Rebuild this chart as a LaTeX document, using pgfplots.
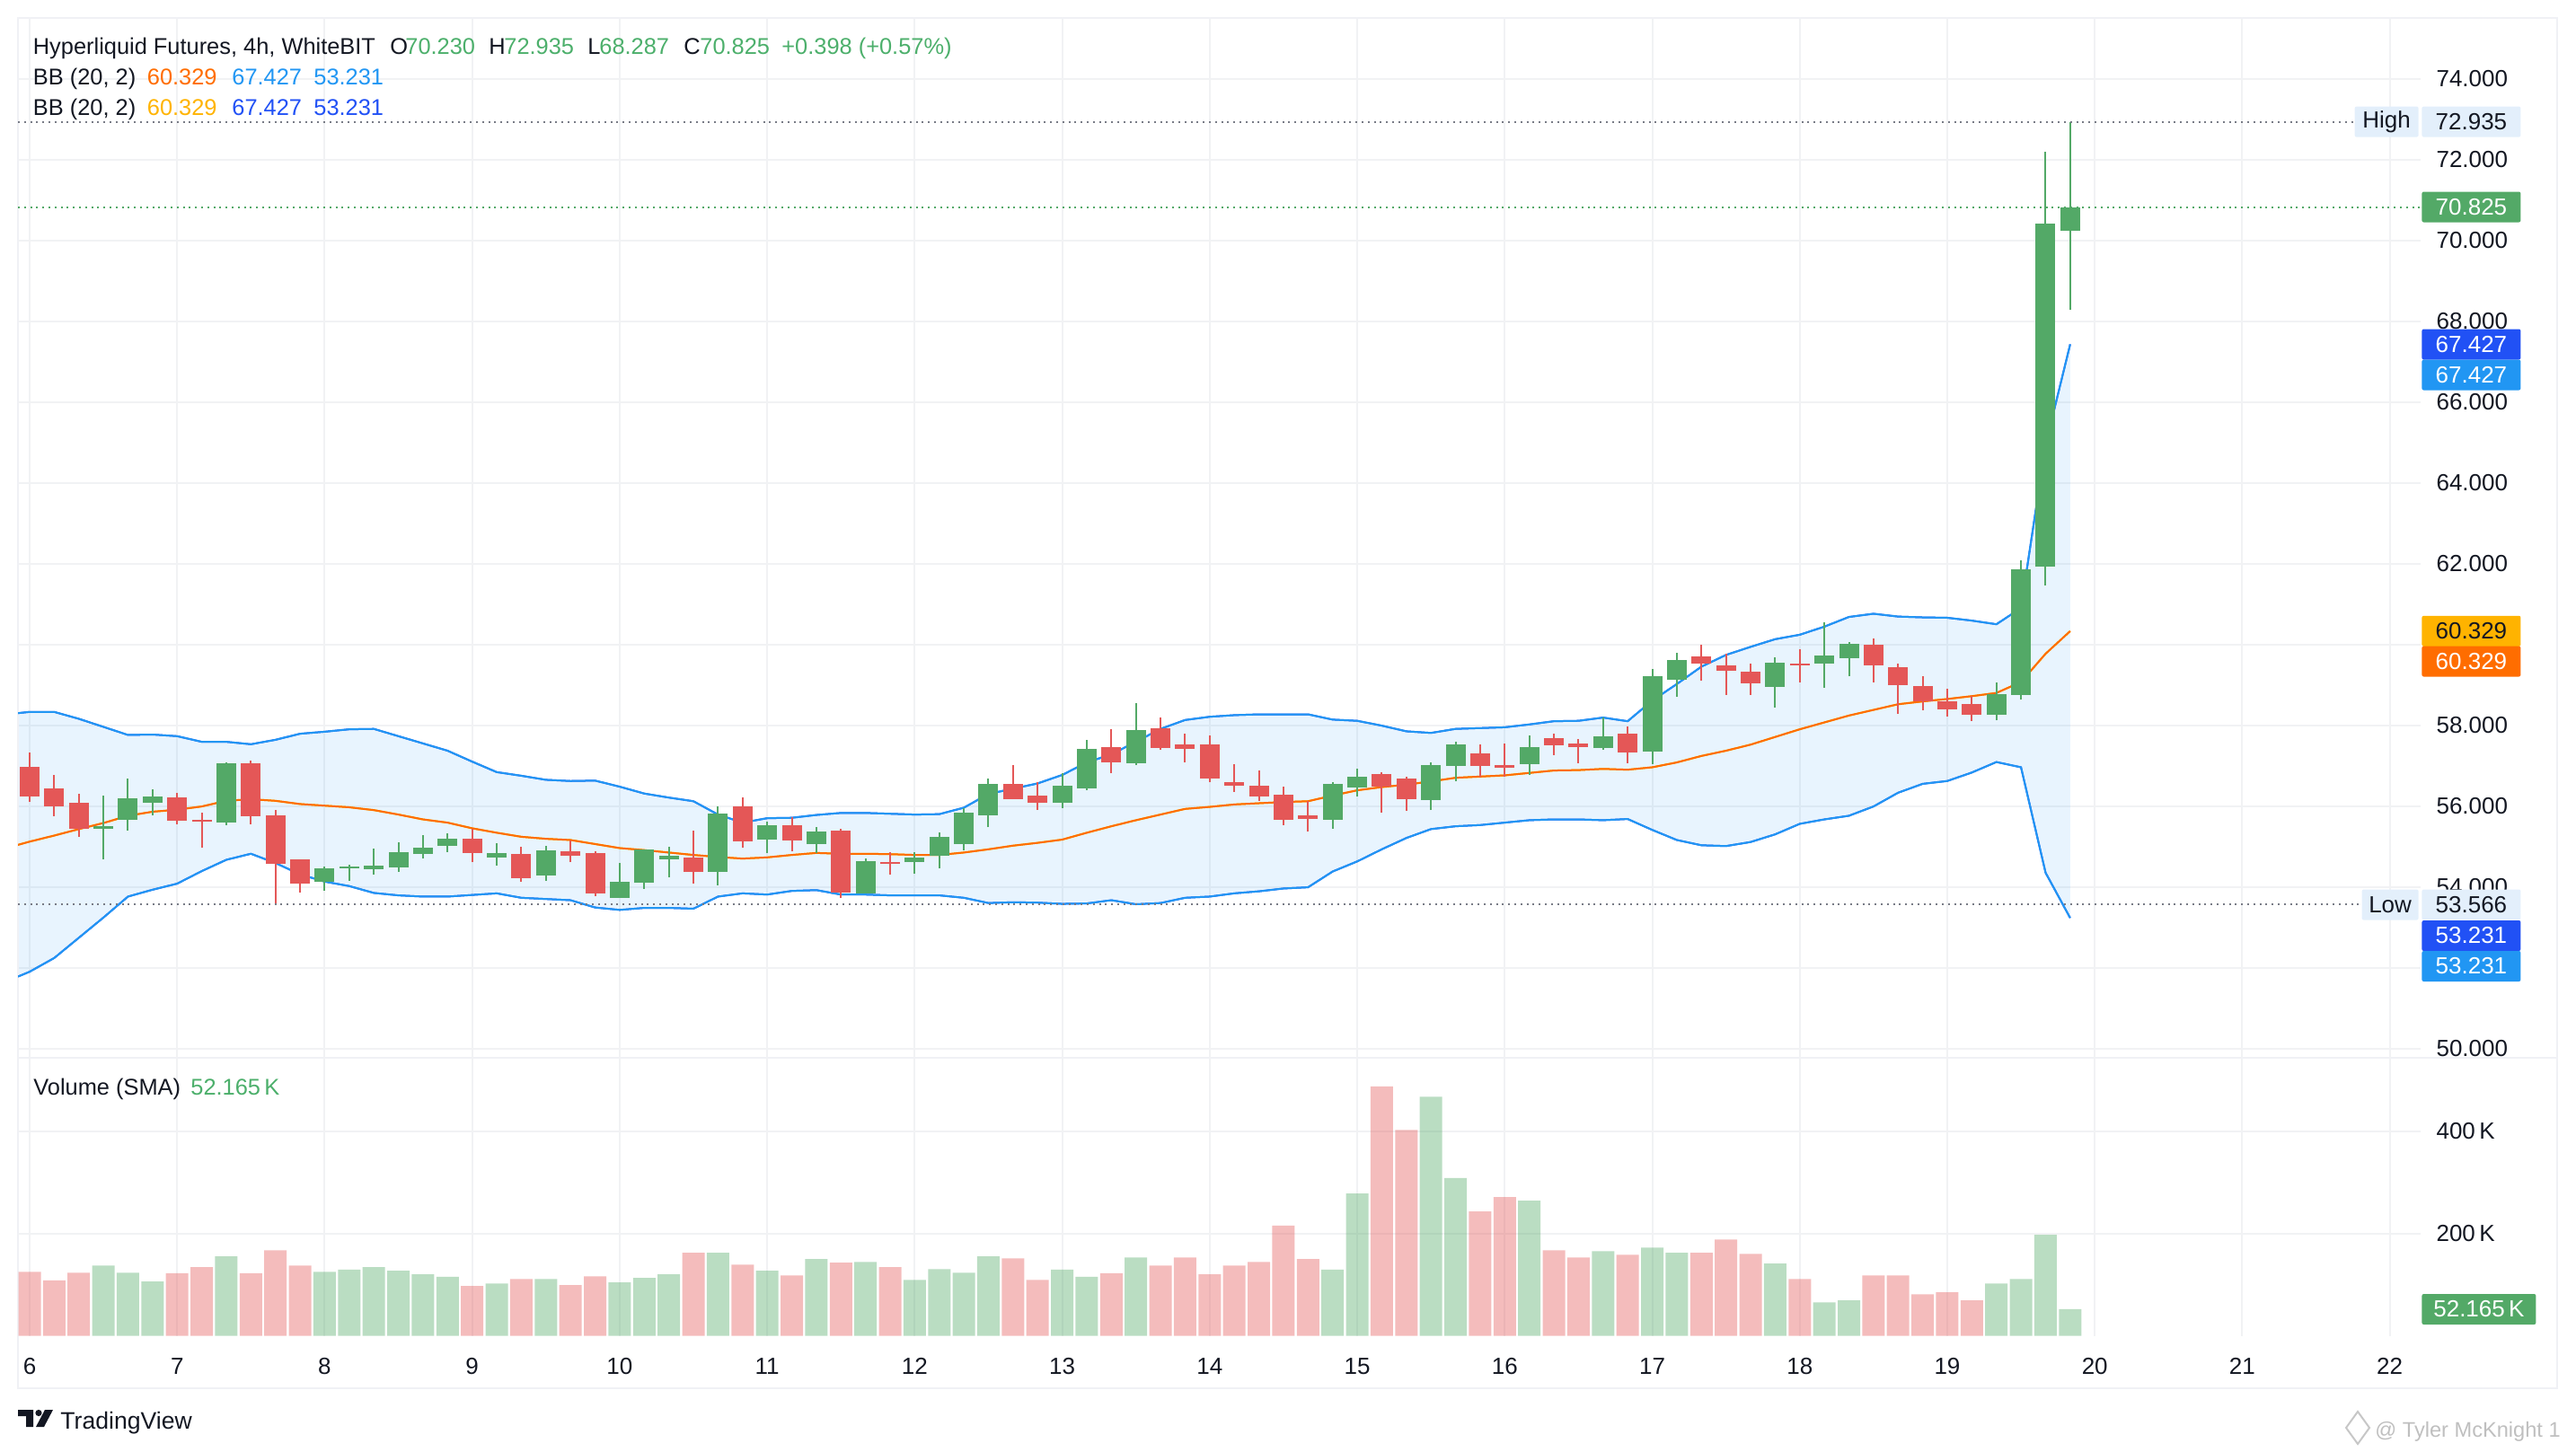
\documentclass[border=0pt]{standalone}
\usepackage{fontspec}
\setmainfont{Liberation Sans}
\usepackage{pgfplots}
\usepackage{pgfplotstable}
\pgfplotsset{compat=1.18}
\usepgfplotslibrary{fillbetween}

\definecolor{cgreen}{HTML}{53A967}
\definecolor{cred}{HTML}{E45757}
\definecolor{cgrid}{HTML}{F1F2F4}
\definecolor{cframe}{HTML}{F0F1F5}
\definecolor{cink}{HTML}{131722}
\definecolor{cblue}{HTML}{2196F3}
\definecolor{cdblue}{HTML}{2151F5}
\definecolor{corange}{HTML}{FF6D00}
\definecolor{camber}{HTML}{FFB300}
\definecolor{cpale}{HTML}{E3EFFB}
\definecolor{cdot}{HTML}{787B86}
\definecolor{ctextgreen}{HTML}{4CAF6B}

% 1 px of the reference is 0.5pt here
\newcommand{\lab}{\fontsize{13}{15}\selectfont}
\newcommand{\leg}{\fontsize{12.7}{15}\selectfont}

% Bollinger bands, x is the candle number (6 candles a day, day 6 = 0)
\pgfplotstableread{
i up mid low
-0.475 58.30 55.04 51.78
0 58.33 55.12 51.90
1 58.33 55.27 52.24
2 58.16 55.43 52.74
3 57.96 55.58 53.24
4 57.76 55.76 53.76
5 57.77 55.86 53.93
6 57.73 55.91 54.08
7 57.59 55.99 54.39
8 57.59 56.13 54.67
9 57.53 56.17 54.82
10 57.64 56.13 54.59
11 57.79 56.05 54.31
12 57.84 56.01 54.13
13 57.90 55.97 54.02
14 57.91 55.90 53.85
15 57.73 55.79 53.79
16 57.55 55.67 53.76
17 57.37 55.59 53.76
18 57.10 55.45 53.80
19 56.84 55.34 53.84
20 56.75 55.24 53.73
21 56.65 55.19 53.70
22 56.62 55.16 53.67
23 56.63 55.06 53.49
24 56.48 54.96 53.43
25 56.31 54.91 53.48
26 56.21 54.85 53.48
27 56.12 54.79 53.46
28 55.79 54.74 53.76
29 55.59 54.70 53.84
30 55.70 54.73 53.81
31 55.71 54.79 53.90
32 55.78 54.84 53.92
33 55.83 54.82 53.81
34 55.83 54.82 53.81
35 55.81 54.81 53.79
36 55.79 54.79 53.79
37 55.80 54.79 53.79
38 55.96 54.85 53.73
39 56.30 54.93 53.60
40 56.43 55.02 53.62
41 56.56 55.09 53.61
42 56.77 55.17 53.58
43 57.08 55.34 53.59
44 57.28 55.50 53.67
45 57.59 55.65 53.57
46 57.91 55.79 53.60
47 58.13 55.93 53.73
48 58.21 55.98 53.76
49 58.25 56.04 53.84
50 58.27 56.07 53.89
51 58.27 56.10 53.96
52 58.27 56.12 53.99
53 58.14 56.26 54.38
54 58.11 56.39 54.63
55 57.99 56.47 54.93
56 57.85 56.53 55.21
57 57.81 56.61 55.43
58 57.91 56.70 55.50
59 57.93 56.73 55.53
60 57.95 56.76 55.59
61 58.02 56.82 55.65
62 58.10 56.88 55.67
63 58.11 56.89 55.67
64 58.19 56.92 55.65
65 58.10 56.90 55.68
66 58.61 56.96 55.41
67 59.02 57.08 55.16
68 59.45 57.24 55.03
69 59.74 57.37 55.01
70 59.94 57.52 55.11
71 60.13 57.71 55.30
72 60.24 57.90 55.56
73 60.44 58.07 55.67
74 60.68 58.24 55.76
75 60.76 58.38 55.99
76 60.69 58.52 56.33
77 60.67 58.59 56.55
78 60.66 58.65 56.62
79 60.59 58.72 56.83
80 60.50 58.80 57.09
81 60.90 59.07 56.96
82 64.94 59.77 54.35
83 67.427 60.329 53.231
}\bbdata

\pgfplotstableread{
i hi top bot lo
3 56.26 55.50 55.44 54.68
4 56.68 56.19 55.66 55.39
5 56.41 56.24 56.08 55.77
8 57.08 57.06 55.59 55.53
12 54.50 54.46 54.13 53.90
13 54.55 54.50 54.46 54.15
14 54.95 54.53 54.44 54.30
15 55.10 54.86 54.48 54.37
16 55.28 54.97 54.81 54.70
17 55.33 55.19 55.01 54.86
19 55.08 54.84 54.73 54.53
21 55.01 54.90 54.28 54.15
24 54.59 54.13 53.73 53.73
25 54.93 54.93 54.10 53.95
26 54.99 54.77 54.68 54.24
28 55.99 55.81 54.37 54.04
30 55.61 55.53 55.17 54.84
32 55.48 55.37 55.06 54.84
34 54.70 54.64 53.84 53.84
36 54.86 54.73 54.61 54.33
37 55.35 55.24 54.77 54.46
38 55.95 55.84 55.06 54.90
39 56.68 56.55 55.77 55.48
42 56.81 56.50 56.08 55.95
43 57.64 57.41 56.44 56.39
45 58.55 57.88 57.06 57.01
53 56.59 56.55 55.66 55.44
54 56.93 56.73 56.46 56.24
57 57.08 57.01 56.15 55.90
58 57.59 57.53 56.99 56.61
61 57.75 57.46 57.04 56.77
64 58.19 57.73 57.44 57.39
66 59.39 59.21 57.35 57.04
67 59.79 59.61 59.13 58.70
71 59.68 59.55 58.95 58.44
73 60.55 59.73 59.53 58.93
74 60.06 60.01 59.66 59.21
80 59.06 58.77 58.26 58.12
81 62.08 61.86 58.75 58.63
82 72.20 70.41 61.92 61.45
83 72.935 70.825 70.230 68.287
}\greencandles

\pgfplotstableread{
i hi top bot lo
0 57.33 56.97 56.24 56.10
1 56.77 56.44 55.99 55.75
2 56.30 56.08 55.44 55.24
6 56.33 56.21 55.64 55.55
7 55.84 55.66 55.61 54.97
9 57.13 57.06 55.75 55.55
10 55.90 55.77 54.57 53.566
11 54.68 54.68 54.08 53.86
18 55.44 55.19 54.84 54.61
20 54.99 54.81 54.21 54.13
22 55.15 54.88 54.77 54.61
23 54.88 54.84 53.84 53.77
27 55.39 54.73 54.37 54.08
29 56.21 55.99 55.13 54.97
31 55.73 55.53 55.15 54.88
33 55.44 55.39 53.86 53.73
35 54.86 54.61 54.57 54.30
40 57.01 56.55 56.17 56.17
41 56.59 56.26 56.08 55.90
44 57.90 57.46 57.08 56.81
46 58.19 57.93 57.44 57.39
47 57.79 57.53 57.41 57.08
48 57.75 57.53 56.68 56.59
49 57.04 56.59 56.50 56.35
50 56.88 56.50 56.24 56.13
51 56.48 56.28 55.66 55.53
52 56.13 55.77 55.68 55.37
55 56.84 56.79 56.48 55.84
56 56.73 56.68 56.17 55.88
59 57.53 57.30 56.99 56.73
60 57.55 57.01 56.95 56.73
62 57.79 57.68 57.50 57.26
63 57.66 57.55 57.46 57.06
65 57.97 57.79 57.33 57.06
68 59.99 59.70 59.53 59.10
69 59.77 59.48 59.35 58.75
70 59.53 59.33 59.04 58.75
72 59.88 59.53 59.48 59.06
75 60.15 59.99 59.48 59.06
76 59.53 59.44 58.99 58.28
77 59.21 58.97 58.59 58.38
78 58.90 58.59 58.39 58.22
79 58.73 58.52 58.26 58.11
}\redcandles

% volume in thousands
\pgfplotstableread{
i v
3 137
4 123
5 106
8 155
12 125
13 129
14 134
15 127
16 120
17 115
19 102
21 111
24 104
25 113
26 120
28 162
30 127
32 150
34 144
36 109
37 130
38 123
39 155
42 129
43 115
45 153
53 129
54 278
57 467
58 308
61 264
64 165
66 172
67 162
71 141
73 65
74 69
80 102
81 111
82 197
83 52.165
}\greenvol

\pgfplotstableread{
i v
0 125
1 108
2 123
6 122
7 134
9 122
10 167
11 137
18 97
20 111
22 99
23 116
27 162
29 139
31 118
33 143
35 134
40 151
41 109
44 122
46 137
47 153
48 120
49 137
50 144
51 215
52 150
55 487
56 402
59 243
60 271
62 167
63 153
65 158
68 162
69 188
70 160
72 111
75 118
76 118
77 81
78 85
79 69
}\redvol

\pgfplotsset{
    chartpanel/.style={
        scale only axis,
        width=1337.5pt,
        xmin=-0.475, xmax=97.26,
        xtick={0,6,...,96},
        grid=major,
        grid style={color=cgrid, line width=1pt},
        axis line style={draw=none},
        major tick length=0pt,
        yticklabel pos=right,
        yticklabel style={font=\lab, text=cink, anchor=west, inner sep=0pt, xshift=8.5pt},
    },
    candlebody/.style={draw=none, no markers, forget plot,
        error bars/.cd, y dir=plus, y explicit, error mark=none,
        error bar style={color=#1, line width=11pt}},
    candlewick/.style={draw=none, no markers, forget plot,
        error bars/.cd, y dir=plus, y explicit, error mark=none,
        error bar style={color=#1, line width=1pt}},
    volbar/.style={ybar, bar width=12.5pt, bar shift=0pt, draw=none, fill=#1, fill opacity=0.4, forget plot},
}

% a price or volume tag on the right scale: y in px, fill, text colour, text, width
\newcommand{\pricetag}[5][55pt]{%
    \node[fill=#3, text=#4, minimum width=#1, minimum height=17pt, inner sep=0pt,
          anchor=west, rounded corners=1pt, font=\lab] at (2696,#2) {#5};}
\newcommand{\txt}[4]{\node[anchor=base west, inner sep=0pt, text=#3, font=\leg] at (#1,#2) {#4};}

\begin{document}
\begin{tikzpicture}

\begin{scope}[x=0.5pt,y=-0.5pt]
    \draw[cframe, line width=1pt] (20,20) rectangle (2847,1546);
    \draw[cframe, line width=1pt] (20,1178) -- (2847,1178);
\end{scope}

% price panel
\begin{axis}[
        chartpanel,
        at={(10pt,-589pt)}, anchor=south west,
        height=579pt,
        ymin=49.77, ymax=75.504,
        ytick={50,52,...,74},
        yticklabels={50.000,52.000,54.000,56.000,58.000,60.000,62.000,64.000,66.000,68.000,70.000,72.000,74.000},
        xticklabels={},
    ]
    \addplot[draw=none, forget plot, name path=bbup] table[x=i, y=up] {\bbdata};
    \addplot[draw=none, forget plot, name path=bblow] table[x=i, y=low] {\bbdata};
    \addplot[cblue, fill opacity=0.1, draw=none, forget plot] fill between[of=bbup and bblow];

    % second BB lies exactly under the first
    \addplot[cdblue, line width=1pt] table[x=i, y=up] {\bbdata};
    \addplot[cdblue, line width=1pt] table[x=i, y=low] {\bbdata};
    \addplot[camber, line width=1pt] table[x=i, y=mid] {\bbdata};
    \addplot[cblue, line width=1pt] table[x=i, y=up] {\bbdata};
    \addplot[cblue, line width=1pt] table[x=i, y=low] {\bbdata};
    \addplot[corange, line width=1pt] table[x=i, y=mid] {\bbdata};

    \addplot[candlewick=cgreen] table[x=i, y=lo, y error plus expr=\thisrow{hi}-\thisrow{lo}] {\greencandles};
    \addplot[candlewick=cred] table[x=i, y=lo, y error plus expr=\thisrow{hi}-\thisrow{lo}] {\redcandles};
    \addplot[candlebody=cgreen] table[x=i, y=bot, y error plus expr=\thisrow{top}-\thisrow{bot}] {\greencandles};
    \addplot[candlebody=cred] table[x=i, y=bot, y error plus expr=\thisrow{top}-\thisrow{bot}] {\redcandles};

    % high, low and last price lines
    \addplot[cdot, line width=1pt, dash pattern=on 1pt off 2.4pt] coordinates {(-0.475,72.935) (94.56,72.935)};
    \addplot[cdot, line width=1pt, dash pattern=on 1pt off 2.4pt] coordinates {(-0.475,53.566) (94.8,53.566)};
    \addplot[cgreen, line width=1pt, dash pattern=on 1pt off 2.4pt] coordinates {(-0.475,70.825) (97.26,70.825)};
\end{axis}

% volume panel
\begin{axis}[
        chartpanel,
        at={(10pt,-743.75pt)}, anchor=south west,
        height=154.75pt,
        ymin=0, ymax=543,
        ytick={200,400},
        yticklabels={200\,K,400\,K},
        xticklabels={6,7,8,9,10,11,12,13,14,15,16,17,18,19,20,21,22},
        xticklabel style={font=\lab, text=cink, anchor=base, yshift=-21.25pt},
    ]
    \addplot[volbar=cgreen] table[x=i, y=v] {\greenvol};
    \addplot[volbar=cred] table[x=i, y=v] {\redvol};
\end{axis}

\begin{scope}[x=0.5pt,y=-0.5pt]
    % right scale tags
    \pricetag{135.6}{cpale}{cink}{72.935}
    \pricetag{230.5}{cgreen}{white}{70.825}
    \pricetag{383.5}{cdblue}{white}{67.427}
    \pricetag{417.5}{cblue}{white}{67.427}
    \pricetag{702.8}{camber}{cink}{60.329}
    \pricetag{736.5}{corange}{white}{60.329}
    \pricetag{1007.5}{cpale}{cink}{53.566}
    \pricetag{1042}{cdblue}{white}{53.231}
    \pricetag{1076}{cblue}{white}{53.231}
    \pricetag[63.5pt]{1458}{cgreen}{white}{52.165\,K}
    \node[fill=cpale, text=cink, minimum width=35.5pt, minimum height=17pt, inner sep=0pt,
          anchor=east, rounded corners=1pt, font=\lab] at (2693,135.6) {High};
    \node[fill=cpale, text=cink, minimum width=31.5pt, minimum height=17pt, inner sep=0pt,
          anchor=east, rounded corners=1pt, font=\lab] at (2693,1007.5) {Low};

    % header lines
    \txt{36.5}{60.5}{cink}{Hyperliquid Futures, 4h, WhiteBIT}
    \txt{434}{60.5}{cink}{O}
    \txt{451}{60.5}{ctextgreen}{70.230}
    \txt{544}{60.5}{cink}{H}
    \txt{561}{60.5}{ctextgreen}{72.935}
    \txt{654}{60.5}{cink}{L}
    \txt{667}{60.5}{ctextgreen}{68.287}
    \txt{761}{60.5}{cink}{C}
    \txt{779}{60.5}{ctextgreen}{70.825}
    \txt{870}{60.5}{ctextgreen}{+0.398 (+0.57\%)}
    \txt{36.5}{94.5}{cink}{BB (20, 2)}
    \txt{163.5}{94.5}{corange}{60.329}
    \txt{258}{94.5}{cblue}{67.427}
    \txt{349}{94.5}{cblue}{53.231}
    \txt{36.5}{128.5}{cink}{BB (20, 2)}
    \txt{163.5}{128.5}{camber}{60.329}
    \txt{258}{128.5}{cdblue}{67.427}
    \txt{349}{128.5}{cdblue}{53.231}
    \txt{37}{1219}{cink}{Volume (SMA)}
    \txt{212}{1219}{ctextgreen}{52.165\,K}

    % TradingView logo and name
    \fill[cink] (20,1570) -- (37,1570) -- (37,1589) -- (29,1589) -- (29,1577) -- (20,1577) -- cycle;
    \fill[cink] (43,1573.5) circle (3.6);
    \fill[cink] (50,1570) -- (59,1570) -- (49,1589) -- (40,1589) -- cycle;
    \node[anchor=base west, inner sep=0pt, text=cink, font=\fontsize{13.3}{15}\selectfont] at (67,1591) {TradingView};

    % watermark
    \draw[black!22, line width=1pt] (2625,1572) -- (2638,1590) -- (2625,1608) -- (2612,1590) -- cycle;
    \node[anchor=base west, inner sep=0pt, text=black!25, font=\fontsize{11.8}{15}\selectfont] at (2644,1600) {@ Tyler McKnight 1};
\end{scope}

\pgfresetboundingbox
\path[use as bounding box] (0,0) rectangle (1434pt,-808pt);
\end{tikzpicture}
\end{document}
